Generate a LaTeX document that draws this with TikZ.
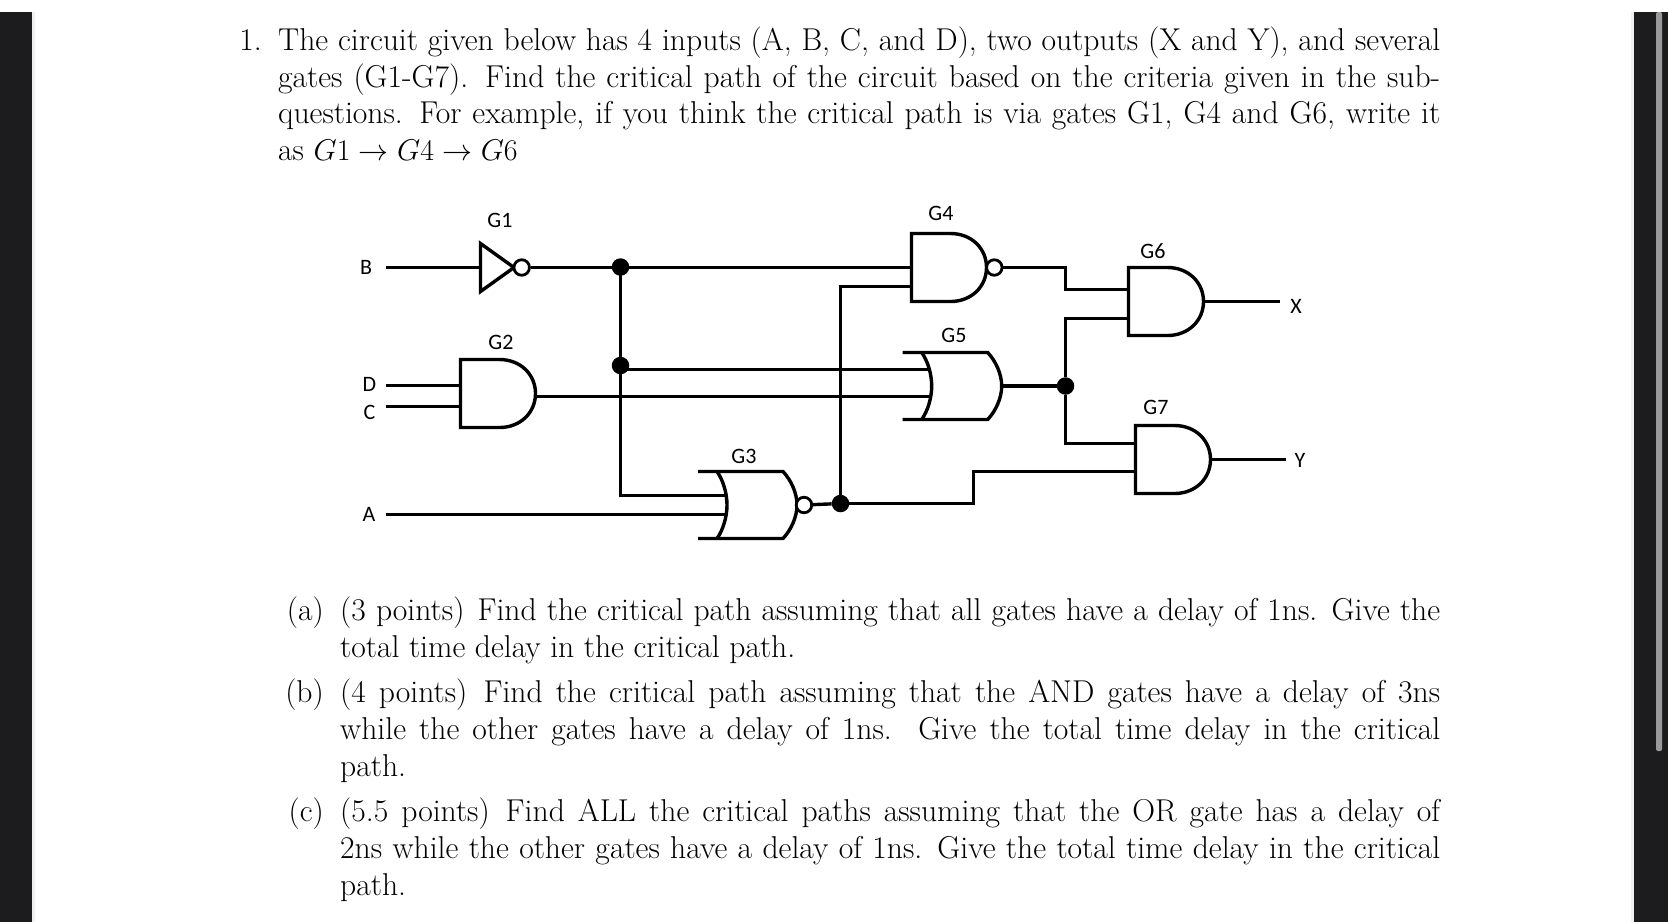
\documentclass[tikz,border=0pt]{standalone}
\usepackage{fix-cm}
\usepackage{fontspec}
\newfontfamily\labelfont{Carlito}
\definecolor{barblack}{HTML}{1C1C1E}
\definecolor{barscroll}{HTML}{999999}
\definecolor{barlight}{HTML}{F0F0F0}
\tikzset{
	wire/.style={line width=3.4pt},
	gatepath/.style={line width=3.4pt, line join=miter},
	dotnode/.style={circle, fill=black, inner sep=0pt, minimum size=17.5pt},
	bubble/.style={circle, draw=black, fill=white, line width=2.8pt, inner sep=0pt, minimum size=15.5pt},
	gatelabel/.style={font=\labelfont\fontsize{22}{26}\selectfont, text=black, inner sep=0pt},
	para/.style={anchor=north west, inner sep=0pt, align=justify, font=\fontsize{31.6}{36.6}\selectfont, text=black, execute at begin node=\strut},
	itemlabel/.style={anchor=north east, inner sep=0pt, font=\fontsize{31.6}{36.6}\selectfont, text=black, execute at begin node=\strut},
	andgate/.pic={
		\draw [gatepath] (0,-34) -- (39,-34) .. controls (60,-34) and (75,-19) .. (75,0) .. controls (75,19) and (60,34) .. (39,34) -- (0,34) -- cycle;
		\coordinate (-out) at (75,0);
	},
	orgate/.pic={
		\draw [gatepath] (-19,-33.5) -- (66,-33.5) .. controls (74,-25) and (80,-12) .. (80,0) .. controls (80,12) and (74,25) .. (66,33.5) -- (-19,33.5);
		\draw [gatepath] (0,-33.5) .. controls (6,-25) and (10,-12) .. (10,0) .. controls (10,12) and (6,25) .. (0,33.5);
		\coordinate (-out) at (80,0);
	},
}
\begin{document}
\begin{tikzpicture}[x=1pt, y=-1pt]
	\useasboundingbox (0,0) rectangle (1668,922);
	% window edges
	\fill [barblack] (0,12) rectangle (32,922);
	\fill [barlight] (32,12) rectangle (35,922);
	\fill [barlight] (1631,12) rectangle (1634,922);
	\fill [barblack] (1634,12) rectangle (1668,922);
	\fill [barscroll, rounded corners=2pt] (1656,12) rectangle (1662,751);
	% question text
	\node at (262,24.7) [itemlabel] (qnum) {1.};
	\node at (278,24.7) [para, text width=1162pt] (qtext) {The circuit given below has 4 inputs (A, B, C, and D), two outputs (X and Y), and several\linebreak gates (G1-G7). Find the critical path of the circuit based on the criteria given in the sub-\linebreak questions. For example, if you think the critical path is via gates G1, G4 and G6, write it\linebreak as {\fontsize{30}{36.6}\selectfont $G1 \rightarrow G4 \rightarrow G6$}};
	\node at (324,595) [itemlabel] (qa) {(a)};
	\node at (340,595) [para, text width=1100pt] (ta) {(3 points)\hspace{3pt} Find the critical path assuming that all gates have a delay of 1ns. Give the\linebreak total time delay in the critical path.};
	\node at (324,677) [itemlabel] (qb) {(b)};
	\node at (340,677) [para, text width=1100pt] (tb) {(4 points)\hspace{3pt} Find the critical path assuming that the AND gates have a delay of 3ns\linebreak while the other gates have a delay of 1ns.\hspace{3pt} Give the total time delay in the critical\linebreak path.};
	\node at (324,796) [itemlabel] (qc) {(c)};
	\node at (340,796) [para, text width=1100pt] (tc) {(5.5 points)\hspace{3pt} Find ALL the critical paths assuming that the OR gate has a delay of\linebreak 2ns while the other gates have a delay of 1ns. Give the total time delay in the critical\linebreak path.};
	% gates
	\draw [gatepath] (480.5,243.5) -- (514,267.5) -- (480.5,291.5) -- cycle;
	\pic (g2) at (460.5,393.5) {andgate};
	\pic (g3) at (717,505) {orgate};
	\pic (g4) at (911.5,267.5) {andgate};
	\pic (g5) at (921.7,386) {orgate};
	\pic (g6) at (1128.5,301.5) {andgate};
	\pic (g7) at (1135.5,459.5) {andgate};
	\node at (521.7,267.5) [bubble] (b1) {};
	\node at (804,505) [bubble] (b3) {};
	\node at (994.3,267.5) [bubble] (b4) {};
	% junctions
	\node at (620.5,267) [dotnode] (j1) {};
	\node at (620.5,365.5) [dotnode] (j2) {};
	\node at (840.5,503.5) [dotnode] (j3) {};
	\node at (1065.5,386) [dotnode] (j4) {};
	% pins
	\coordinate (inb) at (385.7,267.5);
	\coordinate (g1in) at (480.5,267.5);
	\coordinate (ind) at (385.7,385.5);
	\coordinate (g2in1) at (460.5,385.5);
	\coordinate (inc) at (385.7,406.5);
	\coordinate (g2in2) at (460.5,406.5);
	\coordinate (ina) at (385.7,514.5);
	\coordinate (g3in2) at (726,514.5);
	\coordinate (g3in1) at (726,495.5);
	\coordinate (g2out) at (536,396.5);
	\coordinate (g5in1) at (929,369.5);
	\coordinate (g5in2) at (930,396.5);
	\coordinate (g4in1) at (911.5,267.5);
	\coordinate (g4in2) at (911.5,286.5);
	\coordinate (g6in1) at (1128.5,289.5);
	\coordinate (g6in2) at (1128.5,318.5);
	\coordinate (g7in1) at (1135.5,443.5);
	\coordinate (g7in2) at (1135.5,471.5);
	\coordinate (kink) at (973.5,503.5);
	\coordinate (xend) at (1280,301.5);
	\coordinate (yend) at (1285.7,459.5);
	% wires
	\draw [wire] (inb) -- (g1in);
	\draw [wire] (b1) -- (b1 -| j1) -- (j1);
	\draw [wire] (j1 |- g4in1) -- (g4in1);
	\draw [wire] (j1) -- (j2);
	\draw [wire] (j2) |- (g3in1);
	\draw [wire] (j2 |- g5in1) -- (g5in1);
	\draw [wire] (ind) -- (g2in1);
	\draw [wire] (inc) -- (g2in2);
	\draw [wire] (g2out) -- (g5in2);
	\draw [wire] (ina) -- (g3in2);
	\draw [wire] (b3) -- (j3);
	\draw [wire] (j3) |- (g4in2);
	\draw [wire] (j3) -- (kink) |- (g7in2);
	\draw [wire] (b4) -| (j4 |- g6in1) -- (g6in1);
	\draw [wire] (g5-out) -- (j4);
	\draw [wire] (j4) |- (g6in2);
	\draw [wire] (j4) |- (g7in1);
	\draw [wire] (g6-out) -- (xend);
	\draw [wire] (g7-out) -- (yend);
	% labels
	\node at (500,220) [gatelabel] (lg1) {G1};
	\node at (501,342) [gatelabel] (lg2) {G2};
	\node at (744,456) [gatelabel] (lg3) {G3};
	\node at (941,213) [gatelabel] (lg4) {G4};
	\node at (954,335) [gatelabel] (lg5) {G5};
	\node at (1153,251) [gatelabel] (lg6) {G6};
	\node at (1156,407) [gatelabel] (lg7) {G7};
	\node at (366,267) [gatelabel] (lb) {B};
	\node at (369.5,384) [gatelabel] (ld) {D};
	\node at (369.5,412.5) [gatelabel] (lc) {C};
	\node at (369,514) [gatelabel] (la) {A};
	\node at (1296,306) [gatelabel] (lx) {X};
	\node at (1300,460) [gatelabel] (ly) {Y};
\end{tikzpicture}
\end{document}
